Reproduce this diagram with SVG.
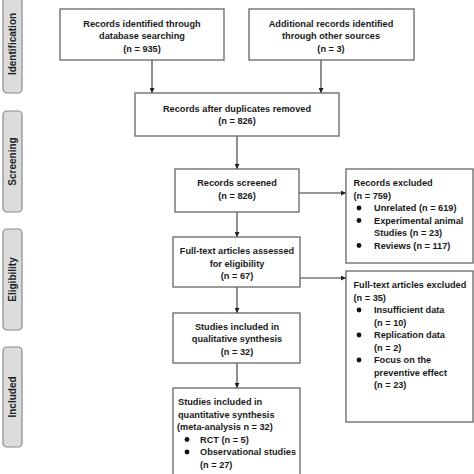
<svg xmlns="http://www.w3.org/2000/svg" width="474" height="474" viewBox="0 0 474 474">
<defs>
<marker id="ah" viewBox="0 0 10 10" refX="10" refY="5" markerWidth="5" markerHeight="5" orient="auto" markerUnits="userSpaceOnUse">
<path d="M0,0 L10,5 L0,10 z" fill="#222"/>
</marker>
<style>
.box{fill:#fff;stroke:#666;stroke-width:1.3}
.tab{fill:#dcdcdc;stroke:#8a8a8a;stroke-width:1.2}
.t{font-family:"Liberation Sans",Arial,sans-serif;font-weight:bold;font-size:9.2px;fill:#1a1a1a}
.c{text-anchor:middle}
.side{font-family:"Liberation Sans",Arial,sans-serif;font-weight:bold;font-size:10px;fill:#222;text-anchor:middle}
.ln{stroke:#333;stroke-width:1.1;fill:none}
.b{fill:#111}
</style>
</defs>
<rect width="474" height="474" fill="#fff"/>

<g id="tab-identification">
<rect class="tab" x="3" y="-6" width="19" height="99" rx="4"/>
<text class="side" transform="translate(16,44) rotate(-90)">Identification</text>
</g>
<g id="tab-screening">
<rect class="tab" x="3" y="111" width="19" height="101" rx="4"/>
<text class="side" transform="translate(16,161.5) rotate(-90)">Screening</text>
</g>
<g id="tab-eligibility">
<rect class="tab" x="3" y="229" width="19" height="101" rx="4"/>
<text class="side" transform="translate(16,279.5) rotate(-90)">Eligibility</text>
</g>
<g id="tab-included">
<rect class="tab" x="3" y="347" width="19" height="100" rx="4"/>
<text class="side" transform="translate(16,397) rotate(-90)">Included</text>
</g>

<g id="connectors">
<path class="ln" d="M152,60 V93" marker-end="url(#ah)"/>
<path class="ln" d="M321,60 V93" marker-end="url(#ah)"/>
<path class="ln" d="M237,136 V169" marker-end="url(#ah)"/>
<path class="ln" d="M299,193 H346" marker-end="url(#ah)"/>
<path class="ln" d="M237,212 V237" marker-end="url(#ah)"/>
<path class="ln" d="M300,278 H346" marker-end="url(#ah)"/>
<path class="ln" d="M237,287 V313" marker-end="url(#ah)"/>
<path class="ln" d="M237,363 V388" marker-end="url(#ah)"/>
</g>

<g id="n-database">
<rect class="box" x="60" y="9" width="164" height="51"/>
<text class="t c" x="142" y="26.5">Records identified through</text>
<text class="t c" x="142" y="39">database searching</text>
<text class="t c" x="142" y="51.5">(n = 935)</text>
</g>
<g id="n-other">
<rect class="box" x="249" y="9" width="165" height="51"/>
<text class="t c" x="331" y="26.5">Additional records identified</text>
<text class="t c" x="331" y="39">through other sources</text>
<text class="t c" x="331" y="51.5">(n = 3)</text>
</g>
<g id="n-duplicates">
<rect class="box" x="135" y="93" width="204" height="43"/>
<text class="t c" x="237" y="111.5">Records after duplicates removed</text>
<text class="t c" x="237" y="124">(n = 826)</text>
</g>
<g id="n-screened">
<rect class="box" x="175" y="169" width="124" height="43"/>
<text class="t c" x="237" y="186">Records screened</text>
<text class="t c" x="237" y="198.5">(n = 826)</text>
</g>
<g id="n-excluded1">
<rect class="box" x="346" y="169" width="127" height="94"/>
<text class="t" x="353.5" y="186">Records excluded</text>
<text class="t" x="353.5" y="198.5"> (n = 759)</text>
<circle class="b" cx="359" cy="208" r="2.4"/>
<text class="t" x="374" y="211">Unrelated (n = 619)</text>
<circle class="b" cx="359" cy="220.5" r="2.4"/>
<text class="t" x="374" y="223.5">Experimental animal</text>
<text class="t" x="374" y="236">Studies (n = 23)</text>
<circle class="b" cx="359" cy="245.5" r="2.4"/>
<text class="t" x="374" y="248.5">Reviews (n = 117)</text>
</g>
<g id="n-fulltext">
<rect class="box" x="173" y="237" width="127" height="50"/>
<text class="t c" x="237" y="254">Full-text articles assessed</text>
<text class="t c" x="237" y="266.5">for eligibility</text>
<text class="t c" x="237" y="279">(n = 67)</text>
</g>
<g id="n-excluded2">
<rect class="box" x="346" y="271" width="127" height="151"/>
<text class="t" x="353.5" y="288">Full-text articles excluded</text>
<text class="t" x="353.5" y="300.5">(n = 35)</text>
<circle class="b" cx="359" cy="310" r="2.4"/>
<text class="t" x="374" y="313">Insufficient data</text>
<text class="t" x="374" y="325.5">(n = 10)</text>
<circle class="b" cx="359" cy="335" r="2.4"/>
<text class="t" x="374" y="338">Replication data</text>
<text class="t" x="374" y="350.5">(n = 2)</text>
<circle class="b" cx="359" cy="360" r="2.4"/>
<text class="t" x="374" y="363">Focus on the</text>
<text class="t" x="374" y="375.5">preventive effect</text>
<text class="t" x="374" y="388">(n = 23)</text>
</g>
<g id="n-qualitative">
<rect class="box" x="173" y="313" width="127" height="50"/>
<text class="t c" x="237" y="329.5">Studies included in</text>
<text class="t c" x="237" y="342">qualitative synthesis</text>
<text class="t c" x="237" y="354.5">(n = 32)</text>
</g>
<g id="n-quantitative">
<rect class="box" x="173" y="388" width="127" height="95"/>
<text class="t" x="178" y="405">Studies included in</text>
<text class="t" x="178" y="417.5">quantitative synthesis</text>
<text class="t" x="177" y="430">(meta-analysis n = 32)</text>
<circle class="b" cx="187" cy="439.5" r="2.4"/>
<text class="t" x="200" y="442.5">RCT (n = 5)</text>
<circle class="b" cx="187" cy="452" r="2.4"/>
<text class="t" x="200" y="455">Observational studies</text>
<text class="t" x="200" y="467.5">(n = 27)</text>
</g>
</svg>
